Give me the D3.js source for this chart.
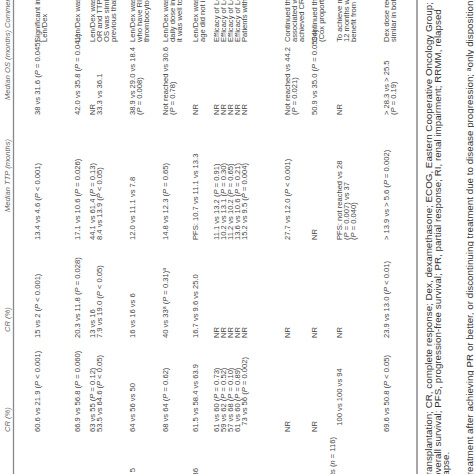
<!DOCTYPE html>
<html>
<head>
<meta charset="utf-8">
<script src="https://cdn.jsdelivr.net/npm/d3@7"></script>
<style>
  body { margin: 0; background: #fff; }
  svg { display: block; font-family: "Liberation Sans", Arial, sans-serif; }
</style>
</head>
<body>
<div id="chart"></div>
<script>
// table columns (rotated page, text reads bottom -> top)
const columns = ["CR (%)", "CR (%)", "Median TTP (months)", "Median OS (months)", "Comments"];

// one entry per table row, each cell is a list of text lines
const orrValues = [
  ["60.6 vs 21.9 (P < 0.001)"], ["66.9 vs 56.8 (P = 0.060)"], ["63 vs 55 (P = 0.12)", "53.5 vs 64.6 (P < 0.05)"],
  ["64 vs 56 vs 50"], ["68 vs 64 (P = 0.62)"], ["61.5 vs 58.4 vs 63.9"],
  ["61 vs 60 (P = 0.73)", "59 vs 62 (P = 0.52)", "57 vs 68 (P = 0.10)", "61 vs 60 (P = 0.89)", "   73 vs 56 (P = 0.002)"],
  ["NR"], ["NR"], ["   100 vs 100 vs 94"], ["69.6 vs 50.8 (P < 0.05)"]
];
const crValues = [
  ["15 vs 2 (P < 0.001)"], ["20.3 vs 11.8 (P = 0.028)"], ["13 vs 16", "7.9 vs 19.0 (P < 0.05)"],
  ["16 vs 16 vs 6"], ["40 vs 33ᵃ (P = 0.31)ᵃ"], ["16.7 vs 9.6 vs 25.0"],
  ["NR", "NR", "NR", "NR", "NR"],
  ["NR"], ["NR"], ["NR"], ["23.9 vs 13.0 (P < 0.01)"]
];
const ttpValues = [
  ["13.4 vs 4.6 (P < 0.001)"], ["17.1 vs 10.6 (P = 0.026)"], ["44.1 vs 61.4 (P = 0.13)", "8.4 vs 13.9 (P < 0.05)"],
  ["12.0 vs 11.1 vs 7.8"], ["14.8 vs 12.3 (P = 0.65)"], ["PFS: 10.7 vs 11.1 vs 13.3"],
  ["11.1 vs 13.2 (P = 0.91)", "10.2 vs 13.1 (P = 0.30)", "11.2 vs 10.2 (P = 0.65)", "13.6 vs 10.6 (P = 0.21)", "15.2 vs 9.5 (P = 0.004)"],
  ["27.7 vs 12.0 (P < 0.001)"], ["NR"], ["PFS: not reached vs 28", "(P = 0.007) vs 37", "(P = 0.040)"],
  ["> 13.9 vs > 5.6 (P = 0.002)"]
];
const osValues = [
  ["38 vs 31.6 (P = 0.045)"], ["42.0 vs 35.8 (P = 0.041)"], ["NR", "33.3 vs 36.1"],
  ["38.9 vs 29.0 vs 18.4", "(P = 0.008)"], ["Not reached vs 30.6", "(P = 0.78)"], ["NR"],
  ["NR", "NR", "NR", "NR", "NR"],
  ["Not reached vs 44.2", "(P = 0.021)"], ["50.9 vs 35.0 (P = 0.0594)"], ["NR"],
  ["> 28.3 vs > 25.5", "(P = 0.19)"]
];
const comments = [
  ["Significant improvement with", "Len/Dex"], ["Len/Dex was more effective"],
  ["Len/Dex was effective", "OR and TTP were", "OS was similar", "previous thalidomide"],
  ["Len/Dex was effective", "who have RI", "thrombocytopenia"],
  ["Len/Dex was effective", "daily dose in", "it was well tolerated"],
  ["Len/Dex was effective", "age did not influence"],
  ["Efficacy of Len/Dex", "Efficacy of Len/Dex", "Efficacy of Len/Dex", "Efficacy of Len/Dex", "Patients with"],
  ["Continued therapy was", "associated with", "achieved CR"],
  ["Continued therapy", "(Cox proportional"],
  ["To achieve maximal", "12 months with", "benefit from"],
  ["Dex dose reduction", "similar in both"]
];
// cut-off pieces of the first (study) column
const studyBits = [[3, "5"], [5, "36"]];
const subHeads = [[9, "Patients (n = 116)"]];

const footnotes = [
  "transplantation; CR, complete response; Dex, dexamethasone; ECOG, Eastern Cooperative Oncology Group;",
  "overall survival; PFS, progression-free survival; PR, partial response; RI, renal impairment; RRMM, relapsed",
  "lapse.",
  "treatment after achieving PR or better, or discontinuing treatment due to disease progression; ᵃonly disposition"
];

const W = 474, H = 474;
const svg = d3.select("#chart").append("svg").attr("width", W).attr("height", H);

// rotated frame: local x = -page y, local y = page x
const g = svg.append("g").attr("transform", "rotate(-90)");

// page-x of first line in each row, and page-y where each column starts
const rowX = d3.scaleOrdinal().domain(d3.range(11)).range([37, 77, 92, 132, 165, 195, 216, 287, 314, 339, 386]);
const lineStep = 7;
const colY = d3.scaleOrdinal().domain(d3.range(5)).range([432, 338, 240, 115, 42]);
const headY = d3.scaleOrdinal().domain(d3.range(5)).range([432, 332, 212, 100, 28]);
const fs = 7.6;

function addText(sel, str) {
  // italicise P and n used as statistics
  const parts = str.split(/(\bP\b|\bn\b)/);
  parts.forEach(p => {
    if (!p) return;
    sel.append("tspan").attr("font-style", (p === "P" || p === "n") ? "italic" : null).text(p);
  });
}

// header
g.selectAll(".head").data(columns).join("text")
  .attr("class", "head")
  .attr("x", (d, i) => -headY(i)).attr("y", 9.5)
  .attr("font-size", fs).attr("font-style", "italic").attr("fill", "#666")
  .text(d => d);

svg.append("line").attr("x1", 13.5).attr("x2", 13.5).attr("y1", 0).attr("y2", H)
  .attr("stroke", "#888").attr("stroke-width", 1.3);
svg.append("line").attr("x1", 417).attr("x2", 417).attr("y1", 0).attr("y2", H)
  .attr("stroke", "#888").attr("stroke-width", 1.5);

const table = [orrValues, crValues, ttpValues, osValues, comments];
table.forEach((col, ci) => {
  col.forEach((cell, ri) => {
    cell.forEach((line, li) => {
      const t = g.append("text")
        .attr("x", -colY(ci))
        .attr("y", rowX(ri) + li * lineStep + 2.7)
        .attr("font-size", fs).attr("fill", "#444")
        .attr("xml:space", "preserve");
      addText(t, line);
    });
  });
});

studyBits.forEach(([ri, s]) => {
  g.append("text").attr("x", -468).attr("y", rowX(ri) + 2.7)
    .attr("text-anchor", "end").attr("font-size", fs).attr("fill", "#444").text(s);
});
subHeads.forEach(([ri, s]) => {
  const t = g.append("text").attr("x", -437).attr("y", rowX(ri) - 7 + 2.7)
    .attr("text-anchor", "end").attr("font-size", fs).attr("fill", "#444");
  addText(t, s);
});

// footnotes
const footX = d3.scaleOrdinal().domain(d3.range(4)).range([429, 437.5, 446, 470]);
footnotes.forEach((f, i) => {
  g.append("text").attr("x", -478).attr("y", footX(i) + 3.3)
    .attr("font-size", 9.8).attr("fill", "#333").text(f);
});
</script>
</body>
</html>
